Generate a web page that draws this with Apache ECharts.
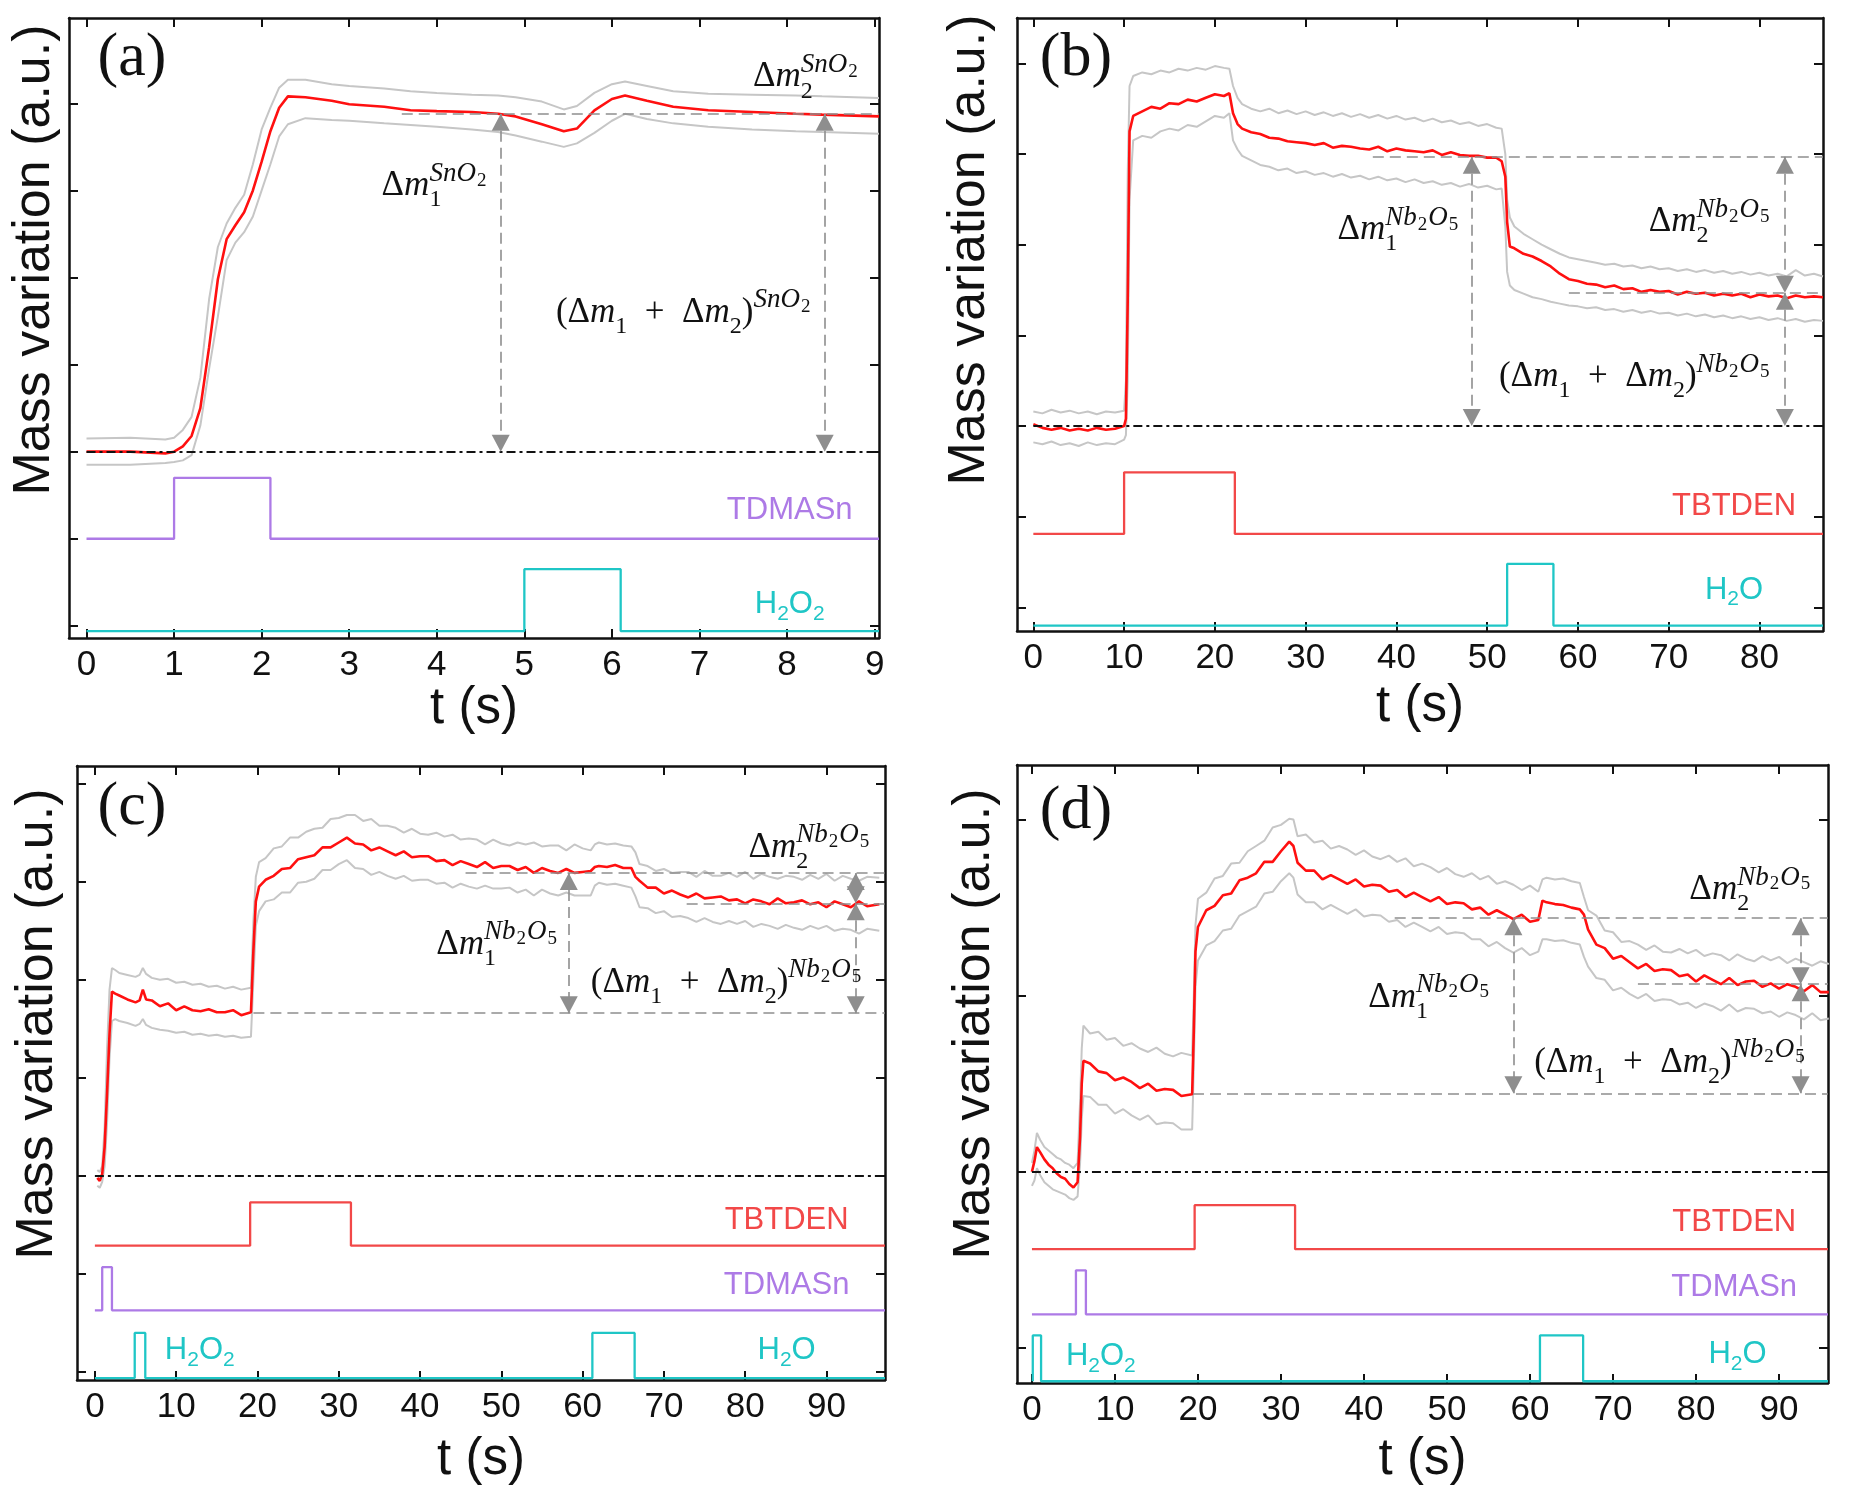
<!DOCTYPE html>
<html>
<head>
<meta charset="utf-8">
<title>Mass variation</title>
<script src="https://cdn.jsdelivr.net/npm/echarts@6/dist/echarts.min.js"></script>
<style>
  html, body { margin: 0; padding: 0; background: #fff; }
  #chart { width: 1850px; height: 1489px; }
</style>
</head>
<body>
<div id="chart"></div>
<script>
// ---------- panel (a): SnO2 ----------
const tA = [0, 0.5, 0.9, 1.0, 1.1, 1.2, 1.3, 1.4, 1.5, 1.6, 1.7, 1.8, 1.9, 2.0, 2.1, 2.2, 2.3, 2.5, 2.8, 3.0, 3.4, 3.7, 4.0, 4.4, 4.7, 4.9, 5.2, 5.45, 5.6, 5.8, 6.0, 6.15, 6.4, 6.7, 7.1, 7.6, 8.1, 8.4, 9.05];
const massA = [0, 0, -0.02, 0, 0.06, 0.18, 0.5, 1.2, 1.98, 2.44, 2.6, 2.75, 3.0, 3.33, 3.68, 3.95, 4.08, 4.07, 4.03, 3.99, 3.96, 3.92, 3.91, 3.9, 3.88, 3.85, 3.76, 3.68, 3.71, 3.92, 4.05, 4.09, 4.03, 3.96, 3.92, 3.9, 3.88, 3.87, 3.85];
const upperA = [0.15, 0.16, 0.14, 0.16, 0.25, 0.4, 0.85, 1.75, 2.35, 2.62, 2.8, 2.95, 3.3, 3.7, 3.95, 4.18, 4.27, 4.27, 4.22, 4.2, 4.17, 4.14, 4.12, 4.1, 4.09, 4.07, 4.02, 3.93, 3.97, 4.12, 4.22, 4.25, 4.2, 4.14, 4.11, 4.1, 4.09, 4.08, 4.06];
const lowerA = [-0.15, -0.15, -0.13, -0.12, -0.1, -0.04, 0.3, 0.95, 1.55, 2.2, 2.4, 2.52, 2.7, 3.0, 3.3, 3.62, 3.76, 3.83, 3.81, 3.8, 3.77, 3.75, 3.73, 3.7, 3.67, 3.63, 3.56, 3.5, 3.54, 3.66, 3.8, 3.88, 3.82, 3.77, 3.73, 3.7, 3.68, 3.67, 3.65];
const tdmasA = [[0, -1], [1, -1], [1, -0.3], [2.1, -0.3], [2.1, -1], [9.05, -1]];
const h2o2A = [[0, -2.06], [5, -2.06], [5, -1.35], [6.1, -1.35], [6.1, -2.06], [9.05, -2.06]];
const guideA = [[3.6, 9.05, 3.88]];
const arrowA = [[4.73, 3.88, 0], [8.43, 3.88, 0]];

// ---------- panel (b): Nb2O5 ----------
const tB = [0, 1, 2, 3, 4, 5, 6, 7, 8, 9, 10, 10.2, 10.4, 10.6, 11, 12, 13, 14, 15, 16, 17, 18, 19, 20, 21, 21.6, 22, 22.5,
  23, 24, 25, 26, 27, 28, 29, 30, 31, 32, 33, 34, 35, 36, 37, 38, 39, 40, 41, 42, 43, 44, 45, 46, 47, 48, 49, 50, 51,
  51.6, 52, 52.2, 52.5, 53, 54, 55, 56, 57, 58, 59, 60, 61, 62, 63, 64, 65, 66, 67, 68, 69, 70, 71, 72, 73, 74, 75, 76, 77, 78, 79, 80, 81, 82, 83, 84, 85, 86, 87];
const massB = [0.02, -0.02, -0.04, -0.02, -0.05, -0.03, -0.05, -0.02, -0.04, -0.03, 0.0,
  0.08, 1.4, 3.25,
  3.42, 3.47, 3.52, 3.5, 3.56, 3.55, 3.6, 3.58, 3.62, 3.66, 3.64,
  3.67, 3.45, 3.33,
  3.28, 3.24, 3.22, 3.18, 3.17, 3.14, 3.13, 3.12, 3.1, 3.12, 3.07, 3.09, 3.08, 3.06, 3.05, 3.08, 3.03, 3.06, 3.04, 3.03, 3.02, 3.04, 2.99, 3.02, 2.99, 2.98, 2.98, 2.96, 2.96,
  2.92, 2.75, 2.25, 1.98,
  1.96, 1.9, 1.87, 1.82, 1.76, 1.68, 1.62, 1.6, 1.57, 1.56, 1.53, 1.55, 1.51, 1.52, 1.48, 1.5, 1.48, 1.49, 1.45, 1.48, 1.46, 1.47, 1.44, 1.46, 1.44, 1.46, 1.42, 1.45, 1.43, 1.44, 1.41, 1.44, 1.42, 1.43, 1.42];
const upperB = [0.16, 0.14, 0.18, 0.15, 0.17, 0.14, 0.16, 0.13, 0.16, 0.15, 0.17,
  0.5, 2.8, 3.75,
  3.86, 3.9, 3.88, 3.92, 3.9, 3.94, 3.92, 3.95, 3.93, 3.97, 3.95,
  3.94, 3.75, 3.62,
  3.55, 3.5, 3.47, 3.5, 3.45, 3.48, 3.44, 3.47, 3.43, 3.46, 3.42, 3.45, 3.41, 3.44, 3.4, 3.43, 3.39, 3.42, 3.38, 3.4, 3.36, 3.39, 3.35, 3.37, 3.33, 3.35, 3.31, 3.33, 3.29,
  3.28, 3.0, 2.5, 2.3,
  2.2, 2.12, 2.06, 2.0, 1.95, 1.9, 1.86, 1.84, 1.82, 1.8, 1.78, 1.79, 1.76, 1.77, 1.74, 1.76, 1.73, 1.74, 1.71, 1.73, 1.7, 1.72, 1.69, 1.71, 1.68, 1.7, 1.67, 1.69, 1.66, 1.68, 1.65, 1.72, 1.66, 1.68, 1.65];
const lowerB = [-0.18, -0.2, -0.17, -0.21, -0.19, -0.22, -0.18, -0.21, -0.19, -0.2, -0.15,
  -0.1, 0.5, 2.5,
  3.15, 3.2, 3.18, 3.25, 3.28, 3.26, 3.32, 3.3, 3.36, 3.42, 3.4,
  3.45, 3.15, 3.05,
  2.98, 2.93, 2.88, 2.86, 2.82, 2.84, 2.79, 2.81, 2.77, 2.79, 2.75, 2.78, 2.74, 2.76, 2.72, 2.75, 2.71, 2.73, 2.69, 2.72, 2.68, 2.7, 2.66, 2.68, 2.64, 2.67, 2.63, 2.65, 2.61,
  2.62, 2.2, 1.7, 1.55,
  1.5, 1.46, 1.42, 1.4, 1.37, 1.35, 1.33, 1.32, 1.3, 1.31, 1.28, 1.29, 1.26, 1.28, 1.25, 1.27, 1.24, 1.25, 1.22, 1.24, 1.21, 1.23, 1.2, 1.22, 1.19, 1.21, 1.18, 1.2, 1.17, 1.19, 1.16, 1.18, 1.15, 1.17, 1.16];
const tbtdenB = [[0, -1.19], [10, -1.19], [10, -0.51], [22.2, -0.51], [22.2, -1.19], [87, -1.19]];
const h2oB = [[0, -2.2], [52.2, -2.2], [52.2, -1.52], [57.3, -1.52], [57.3, -2.2], [87, -2.2]];
const guideB = [[37.4, 87, 2.97], [59, 87, 1.47]];
const arrowB = [[48.3, 2.97, 0], [82.8, 2.97, 1.47], [82.8, 1.47, 0]];

// ---------- panel (c): SnO2 + Nb2O5 ----------
const tC = [0.3, 0.6, 0.9, 1.2, 1.5, 1.8, 2.1, 2.5, 3, 4, 5, 5.5, 5.9, 6.3,
  7, 8, 9, 10, 11, 12, 13, 14, 15, 16, 17, 18,
  19.2, 19.5, 19.8, 20.2,
  21, 22, 23, 24, 25, 26, 27, 28, 29, 30, 31, 32, 33, 34, 35, 36, 37, 38, 39, 40, 41, 42, 43, 44, 45, 46, 47, 48, 49, 50, 51, 52, 53, 54, 55, 56, 57, 58, 59, 60, 61,
  61.5, 62, 63, 64, 65, 66, 66.5,
  67, 68, 69, 70, 71, 72, 73, 74, 75, 76, 77, 78, 79, 80, 81, 82, 83, 84, 85, 86, 87, 88, 89, 90, 91, 92, 93, 94, 95, 96.5];
const massC = [-0.02, -0.05, 0.02, 0.3, 0.85, 1.45, 1.88, 1.86, 1.84, 1.8, 1.77, 1.79, 1.9, 1.8,
  1.79, 1.73, 1.76, 1.69, 1.73, 1.69, 1.68, 1.7, 1.67, 1.67, 1.69, 1.64,
  1.67, 2.3, 2.8, 2.95,
  3.02, 3.06, 3.13, 3.14, 3.23, 3.25, 3.27, 3.35, 3.35, 3.4, 3.45, 3.39, 3.38, 3.32, 3.35, 3.31, 3.27, 3.31, 3.25, 3.26,
  3.26, 3.21, 3.22, 3.17, 3.21, 3.18, 3.15, 3.2, 3.14, 3.16, 3.16, 3.12, 3.15, 3.09, 3.14, 3.11, 3.09, 3.13, 3.09, 3.1, 3.11,
  3.15, 3.16, 3.15, 3.17, 3.14, 3.14, 3.05,
  3.01, 2.94, 2.94, 2.88, 2.91, 2.87, 2.84, 2.88, 2.83, 2.84, 2.85, 2.81, 2.82, 2.78, 2.82, 2.8, 2.77, 2.83, 2.78, 2.79, 2.81, 2.77, 2.79, 2.74, 2.8, 2.77, 2.74, 2.8, 2.75, 2.77];
const upperC = [0.06, 0.04, 0.1, 0.5, 1.3, 1.9, 2.12, 2.1, 2.07, 2.05, 2.03, 2.05, 2.12, 2.06,
  2.02, 2.0, 2.01, 1.97, 1.98, 1.95, 1.96, 1.93, 1.94, 1.91, 1.93, 1.9,
  1.92, 2.6, 3.05, 3.2,
  3.24, 3.34, 3.36, 3.45, 3.45, 3.51, 3.54, 3.55, 3.64, 3.65, 3.68, 3.68, 3.62, 3.64, 3.57, 3.57, 3.55, 3.5, 3.54, 3.49,
  3.48, 3.5, 3.46, 3.48, 3.43, 3.44, 3.43, 3.38, 3.43, 3.39, 3.37, 3.4, 3.38, 3.4, 3.36, 3.37, 3.37, 3.32, 3.38, 3.34, 3.32,
  3.38, 3.4, 3.38, 3.39, 3.37, 3.36, 3.3,
  3.18, 3.16, 3.11, 3.13, 3.09, 3.1, 3.1, 3.05, 3.11, 3.06, 3.06, 3.09, 3.05, 3.1, 3.03, 3.08, 3.05, 3.03, 3.06, 3.05, 3.02, 3.07, 3.03, 3.08, 3.01, 3.06, 3.03, 3.01, 3.05, 3.04];
const lowerC = [-0.1, -0.12, -0.06, 0.1, 0.55, 1.2, 1.58, 1.6, 1.58, 1.56, 1.53, 1.55, 1.6, 1.54,
  1.51, 1.49, 1.48, 1.46, 1.47, 1.44, 1.45, 1.43, 1.44, 1.42, 1.43, 1.41,
  1.42, 2.0, 2.55, 2.7,
  2.8, 2.82, 2.89, 2.89, 2.99, 3.0, 3.03, 3.12, 3.12, 3.18, 3.22, 3.14, 3.13, 3.07, 3.1, 3.06, 3.03, 3.06, 3.01, 3.02,
  3.02, 2.98, 2.99, 2.94, 2.98, 2.95, 2.93, 2.96, 2.93, 2.93, 2.94, 2.89, 2.92, 2.86, 2.92, 2.88, 2.86, 2.89, 2.86, 2.86, 2.86,
  2.96, 2.99, 2.97, 2.98, 2.96, 2.94, 2.85,
  2.74, 2.73, 2.68, 2.7, 2.64, 2.65, 2.63, 2.59, 2.63, 2.59, 2.57, 2.6, 2.57, 2.6, 2.54, 2.57, 2.55, 2.52, 2.56, 2.53, 2.51, 2.55, 2.52, 2.55, 2.5, 2.52, 2.51, 2.47, 2.52, 2.5];
const tbtdenC = [[0, -0.71], [19.1, -0.71], [19.1, -0.27], [31.5, -0.27], [31.5, -0.71], [97.2, -0.71]];
const tdmasC = [[0, -1.37], [0.9, -1.37], [0.9, -0.93], [2.1, -0.93], [2.1, -1.37], [97.2, -1.37]];
const h2oC = [[0, -2.06], [4.9, -2.06], [4.9, -1.6], [6.2, -1.6], [6.2, -2.06], [61.2, -2.06], [61.2, -1.6], [66.4, -1.6], [66.4, -2.06], [97.2, -2.06]];
const guideC = [[45.6, 97.2, 3.09], [19.5, 97.2, 1.66], [72.8, 97.2, 2.78]];
const arrowC = [[58.3, 3.09, 1.66], [93.6, 3.09, 2.78], [93.6, 2.78, 1.66]];

// ---------- panel (d): SnO2 + Nb2O5, other order ----------
const tD = [0, 0.3, 0.6, 1, 1.5, 2, 2.5, 3, 3.5, 4, 4.5, 5, 5.5,
  5.8, 6, 6.2,
  7, 8, 9, 10, 11, 12, 13, 14, 15, 16, 17, 18,
  19.3, 19.5, 19.7, 20,
  21, 22, 23, 24, 25, 26, 27, 28, 29, 30, 31,
  31.5,
  32, 33, 34, 35, 36, 37, 38, 39, 40, 41, 42, 43, 44, 45, 46, 47, 48, 49, 50, 51, 52, 53, 54, 55, 56, 57, 58, 59, 60, 61,
  61.5, 62, 63, 64, 65, 66, 66.5,
  67, 68, 69, 70, 71, 72, 73, 74, 75, 76, 77, 78, 79, 80, 81, 82, 83, 84, 85, 86, 87, 88, 89, 90, 91, 92, 93, 94, 95,
  96];
const massD = [0.0, 0.06, 0.14, 0.11, 0.07, 0.04, 0.02, -0.01, -0.03, -0.04, -0.07, -0.09, -0.06,
  0.2, 0.5, 0.63,
  0.615, 0.57, 0.56, 0.52, 0.535, 0.51, 0.475, 0.5, 0.46, 0.47, 0.465, 0.43,
  0.44, 0.8, 1.25, 1.39,
  1.485, 1.51, 1.57, 1.58, 1.655, 1.67, 1.695, 1.76, 1.76, 1.82, 1.875,
  1.85,
  1.755, 1.71, 1.71, 1.66, 1.685, 1.66, 1.635, 1.66, 1.62, 1.63, 1.625, 1.59, 1.6, 1.56, 1.585, 1.56, 1.535, 1.56, 1.52, 1.53,
  1.525, 1.49, 1.5, 1.46, 1.485, 1.46, 1.435, 1.46, 1.42, 1.43,
  1.54, 1.53, 1.52, 1.515, 1.5, 1.49, 1.46,
  1.375, 1.29, 1.27, 1.21, 1.225, 1.19, 1.155, 1.18, 1.14, 1.15, 1.145, 1.11, 1.12, 1.08, 1.115, 1.09, 1.065, 1.1, 1.06, 1.08,
  1.085, 1.05, 1.07, 1.04, 1.065, 1.05, 1.025, 1.06, 1.02,
  1.02];
const upperD = [0.05, 0.12, 0.22, 0.18, 0.14, 0.12, 0.1, 0.08, 0.07, 0.05, 0.04, 0.02, 0.05,
  0.4, 0.7, 0.83,
  0.785, 0.795, 0.75, 0.76, 0.715, 0.73, 0.7, 0.68, 0.705, 0.67, 0.655, 0.675,
  0.66, 1.0, 1.4, 1.55,
  1.585, 1.665, 1.68, 1.75, 1.755, 1.82, 1.85, 1.88, 1.955, 1.97, 2.005,
  2.0,
  1.905, 1.915, 1.87, 1.88, 1.835, 1.85, 1.83, 1.8, 1.825, 1.79, 1.775, 1.795, 1.76, 1.78, 1.735, 1.75, 1.73, 1.7, 1.725, 1.69,
  1.675, 1.695, 1.66, 1.68, 1.635, 1.65, 1.63, 1.6, 1.625, 1.59,
  1.66, 1.67, 1.66, 1.665, 1.65, 1.64, 1.56,
  1.485, 1.455, 1.37, 1.36, 1.305, 1.31, 1.29, 1.26, 1.285, 1.25, 1.245, 1.265, 1.24, 1.26, 1.225, 1.24, 1.23, 1.2, 1.235, 1.21,
  1.195, 1.225, 1.2, 1.22, 1.185, 1.21, 1.19, 1.17, 1.195,
  1.18];
const lowerD = [-0.08, -0.05, 0.02, -0.02, -0.06, -0.08, -0.1, -0.11, -0.12, -0.13, -0.15, -0.16, -0.14,
  0.05, 0.3, 0.43,
  0.425, 0.38, 0.38, 0.33, 0.355, 0.32, 0.295, 0.32, 0.27, 0.28, 0.275, 0.24,
  0.24, 0.6, 1.05, 1.2,
  1.285, 1.31, 1.37, 1.38, 1.455, 1.48, 1.505, 1.58, 1.59, 1.65, 1.695,
  1.67,
  1.575, 1.53, 1.53, 1.49, 1.515, 1.49, 1.465, 1.49, 1.45, 1.46, 1.455, 1.42, 1.43, 1.39, 1.415, 1.39, 1.365, 1.39, 1.35, 1.36,
  1.355, 1.32, 1.32, 1.28, 1.305, 1.27, 1.245, 1.27, 1.23, 1.25,
  1.32, 1.32, 1.31, 1.315, 1.3, 1.29, 1.22,
  1.165, 1.1, 1.09, 1.03, 1.045, 1.01, 0.985, 1.01, 0.97, 0.98, 0.975, 0.95, 0.96, 0.93, 0.955, 0.94, 0.915, 0.95, 0.91, 0.93,
  0.925, 0.9, 0.91, 0.88, 0.905, 0.89, 0.865, 0.9, 0.86,
  0.87];
const tbtdenD = [[0, -0.44], [19.6, -0.44], [19.6, -0.19], [31.7, -0.19], [31.7, -0.44], [95.9, -0.44]];
const tdmasD = [[0, -0.81], [5.3, -0.81], [5.3, -0.56], [6.5, -0.56], [6.5, -0.81], [95.9, -0.81]];
const h2oD = [[0.1, -1.19], [0.1, -0.93], [1.1, -0.93], [1.1, -1.19], [61.2, -1.19], [61.2, -0.93], [66.4, -0.93], [66.4, -1.19], [95.9, -1.19]];
const guideD = [[43.7, 95.9, 1.44], [19.4, 95.9, 0.445], [73, 95.9, 1.065]];
const arrowD = [[58, 1.44, 0.445], [92.6, 1.44, 1.065], [92.6, 1.065, 0.445]];

// ---------- axes ----------
const xRanges = [[-0.2, 9.05], [-1.8, 87], [-2.2, 97.2], [-1.8, 95.9]];
const yRanges = [[-2.14, 4.98], [-2.26, 4.5], [-2.08, 4.18], [-1.2, 2.31]];
const xTicks = [
  [0, 1, 2, 3, 4, 5, 6, 7, 8, 9],
  [0, 10, 20, 30, 40, 50, 60, 70, 80],
  [0, 10, 20, 30, 40, 50, 60, 70, 80, 90],
  [0, 10, 20, 30, 40, 50, 60, 70, 80, 90]
];
const yTicks = [[-2, -1, 0, 1, 2, 3, 4], [-2, -1, 0, 1, 2, 3, 4], [-2, -1, 0, 1, 2, 3, 4], [-1, 0, 1, 2]];

// ---------- layout ----------
const grids = [
  { left: 69, top: 18, width: 810, height: 620 },
  { left: 1017, top: 18, width: 806, height: 613 },
  { left: 77, top: 766, width: 808, height: 614 },
  { left: 1017, top: 765, width: 811, height: 618 }
];
const nameGaps = [45, 50, 54, 51];

const RED = '#ff1010';
const GRAY = '#c6c6c6';
const PURPLE = '#ad7ae6';
const TBT = '#f24848';
const CYAN = '#1fc6c6';
const INK = '#111';
const SANS = 'Liberation Sans';
const SERIF = 'Liberation Serif';

const zip = (t, y) => t.map((v, k) => [v, y[k]]);

// subscript "sbz" has no width, so the superscript starts right above it
const mathRich = {
  D: { fontFamily: SERIF, fontSize: 35, lineHeight: 52, color: INK },
  m: { fontFamily: SERIF, fontStyle: 'italic', fontSize: 35, lineHeight: 52, color: INK },
  sb: { fontFamily: SERIF, fontSize: 24, color: INK, verticalAlign: 'bottom' },
  sbz: { fontFamily: SERIF, fontSize: 24, color: INK, verticalAlign: 'bottom', width: 0.01, align: 'left' },
  sp: { fontFamily: SERIF, fontStyle: 'italic', fontSize: 27, color: INK, verticalAlign: 'top' },
  sps: { fontFamily: SERIF, fontSize: 19, color: INK, verticalAlign: 'top', padding: [11, 1, 0, 1] }
};
const supNb = '{sp|Nb}{sps|2}{sp|O}{sps|5}';
const supSn = '{sp|SnO}{sps|2}';
const dm = (i, sup) => '{D|Δ}{m|m}{sbz|' + i + '}' + sup;
const dmSum = sup => '{D|(Δ}{m|m}{sb|1}{D|\u2002+\u2002Δ}{m|m}{sb|2}{D|)}' + sup;

function gasRich(color) {
  return {
    c: { fontFamily: SANS, fontSize: 31, lineHeight: 40, color: color },
    cs: { fontFamily: SANS, fontSize: 21, color: color, verticalAlign: 'bottom' }
  };
}

function buildAxes(i) {
  const common = {
    gridIndex: i, type: 'value', min: xRanges[i][0], max: xRanges[i][1],
    splitLine: { show: false },
    axisLine: { show: true, onZero: false, lineStyle: { color: INK, width: 2.5 } },
    axisTick: { show: true, inside: true, length: 9, customValues: xTicks[i], lineStyle: { color: INK, width: 2 } }
  };
  const x = [
    Object.assign({}, common, {
      position: 'bottom',
      axisLabel: { show: true, customValues: xTicks[i], margin: 10, fontSize: 35, fontFamily: SANS, color: INK },
      name: 't (s)', nameLocation: 'middle', nameGap: nameGaps[i],
      nameTextStyle: { fontSize: 51, fontFamily: SANS, color: INK }
    }),
    Object.assign({}, common, { position: 'top', axisLabel: { show: false } })
  ];
  const ycommon = {
    gridIndex: i, type: 'value', min: yRanges[i][0], max: yRanges[i][1],
    splitLine: { show: false },
    axisLabel: { show: false },
    axisLine: { show: true, onZero: false, lineStyle: { color: INK, width: 2.5 } },
    axisTick: { show: true, inside: true, length: 9, customValues: yTicks[i], lineStyle: { color: INK, width: 2 } }
  };
  const y = [
    Object.assign({}, ycommon, { position: 'left' }),
    Object.assign({}, ycommon, { position: 'right' })
  ];
  return { x, y };
}

function markLines(i, guides, arrows) {
  const dash = { color: '#8e8e8e', width: 1.6, type: [11, 6] };
  const data = [[
    { coord: [0, 0], symbol: 'none', lineStyle: { color: INK, width: 2.2, type: [9, 4, 3, 4] } },
    { coord: [xRanges[i][1], 0], symbol: 'none' }
  ]];
  guides.forEach(g => data.push([
    { coord: [g[0], g[2]], symbol: 'none', lineStyle: dash },
    { coord: [g[1], g[2]], symbol: 'none' }
  ]));
  arrows.forEach(a => data.push([
    { coord: [a[0], a[1]], symbol: 'triangle', symbolSize: [18, 17], symbolOffset: [0, '50%'], lineStyle: dash },
    { coord: [a[0], a[2]], symbol: 'triangle', symbolSize: [18, 17], symbolOffset: [0, '50%'] }
  ]));
  return {
    silent: true, animation: false,
    symbol: ['none', 'none'],
    label: { show: false },
    itemStyle: { color: '#808080' },
    lineStyle: dash,
    data: data
  };
}

function traces(i, t, mass, upper, lower, guides, arrows) {
  const base = { type: 'line', xAxisIndex: 2 * i, yAxisIndex: 2 * i, symbol: 'none', silent: true };
  return [
    Object.assign({}, base, { data: zip(t, upper), lineStyle: { color: GRAY, width: 2 }, z: 2 }),
    Object.assign({}, base, { data: zip(t, lower), lineStyle: { color: GRAY, width: 2 }, z: 2 }),
    Object.assign({}, base, { data: zip(t, mass), lineStyle: { color: RED, width: 2.6 }, z: 4,
      markLine: markLines(i, guides, arrows) })
  ];
}

function pulse(i, pts, color) {
  return { type: 'line', xAxisIndex: 2 * i, yAxisIndex: 2 * i, symbol: 'none', silent: true,
    data: pts, lineStyle: { color: color, width: 2.3 }, z: 3 };
}

function texts(i, items) {
  return {
    type: 'scatter', xAxisIndex: 2 * i, yAxisIndex: 2 * i, symbolSize: 0, silent: true, z: 10,
    itemStyle: { color: 'rgba(0,0,0,0)' },
    data: items.map(it => ({
      value: it[0],
      label: { show: true, position: it[3] || 'right', distance: 0, formatter: it[1], rich: it[2], opacity: 1 }
    }))
  };
}

const axes = [0, 1, 2, 3].map(buildAxes);

const series = [].concat(
  traces(0, tA, massA, upperA, lowerA, guideA, arrowA),
  traces(1, tB, massB, upperB, lowerB, guideB, arrowB),
  traces(2, tC, massC, upperC, lowerC, guideC, arrowC),
  traces(3, tD, massD, upperD, lowerD, guideD, arrowD),
  [
    pulse(0, tdmasA, PURPLE), pulse(0, h2o2A, CYAN),
    pulse(1, tbtdenB, TBT), pulse(1, h2oB, CYAN),
    pulse(2, tbtdenC, TBT), pulse(2, tdmasC, PURPLE), pulse(2, h2oC, CYAN),
    pulse(3, tbtdenD, TBT), pulse(3, tdmasD, PURPLE), pulse(3, h2oD, CYAN),
    texts(0, [
      [[3.37, 3.05], dm(1, supSn), mathRich],
      [[7.61, 4.3], dm(2, supSn), mathRich],
      [[5.36, 1.6], dmSum(supSn), mathRich],
      [[8.03, -0.68], '{c|TDMASn}', gasRich(PURPLE), 'inside'],
      [[8.03, -1.76], '{c|H}{cs|2}{c|O}{cs|2}', gasRich(CYAN), 'inside']
    ]),
    texts(1, [
      [[33.5, 2.16], dm(1, supNb), mathRich],
      [[67.8, 2.25], dm(2, supNb), mathRich],
      [[51.3, 0.54], dmSum(supNb), mathRich],
      [[77.2, -0.89], '{c|TBTDEN}', gasRich(TBT), 'inside'],
      [[77.2, -1.81], '{c|H}{cs|2}{c|O}', gasRich(CYAN), 'inside']
    ]),
    texts(2, [
      [[42, 2.36], dm(1, supNb), mathRich],
      [[80.4, 3.35], dm(2, supNb), mathRich],
      [[61, 1.97], dmSum(supNb), mathRich],
      [[85.1, -0.45], '{c|TBTDEN}', gasRich(TBT), 'inside'],
      [[85.1, -1.12], '{c|TDMASn}', gasRich(PURPLE), 'inside'],
      [[12.9, -1.78], '{c|H}{cs|2}{c|O}{cs|2}', gasRich(CYAN), 'inside'],
      [[85.1, -1.78], '{c|H}{cs|2}{c|O}', gasRich(CYAN), 'inside']
    ]),
    texts(3, [
      [[40.5, 0.99], dm(1, supNb), mathRich],
      [[79.2, 1.6], dm(2, supNb), mathRich],
      [[60.5, 0.62], dmSum(supNb), mathRich],
      [[84.6, -0.29], '{c|TBTDEN}', gasRich(TBT), 'inside'],
      [[84.6, -0.66], '{c|TDMASn}', gasRich(PURPLE), 'inside'],
      [[8.3, -1.05], '{c|H}{cs|2}{c|O}{cs|2}', gasRich(CYAN), 'inside'],
      [[85, -1.04], '{c|H}{cs|2}{c|O}', gasRich(CYAN), 'inside']
    ])
  ]
);

// y titles and panel letters
const yTitlePos = [[35, 260], [970, 250], [38, 1024], [975, 1024]];
const letterPos = [[132, 59, '(a)'], [1076, 59, '(b)'], [132, 808, '(c)'], [1076, 812, '(d)']];
const graphic = [];
yTitlePos.forEach(p => graphic.push({
  type: 'text', x: p[0], y: p[1], rotation: Math.PI / 2, silent: true,
  style: { text: 'Mass variation (a.u.)', fontSize: 52, fontFamily: SANS, fill: INK,
    align: 'center', verticalAlign: 'middle', textAlign: 'center', textVerticalAlign: 'middle' }
}));
letterPos.forEach(p => graphic.push({
  type: 'text', x: p[0], y: p[1], silent: true,
  style: { text: p[2], fontSize: 62, fontFamily: SERIF, fill: INK,
    align: 'center', verticalAlign: 'middle', textAlign: 'center', textVerticalAlign: 'middle' }
}));

const chart = echarts.init(document.getElementById('chart'));
chart.setOption({
  animation: false,
  backgroundColor: '#fff',
  grid: grids.map(g => Object.assign({ containLabel: false, outerBoundsMode: 'none' }, g)),
  xAxis: [].concat(...axes.map(a => a.x)),
  yAxis: [].concat(...axes.map(a => a.y)),
  series: series,
  graphic: graphic
});
</script>
</body>
</html>
